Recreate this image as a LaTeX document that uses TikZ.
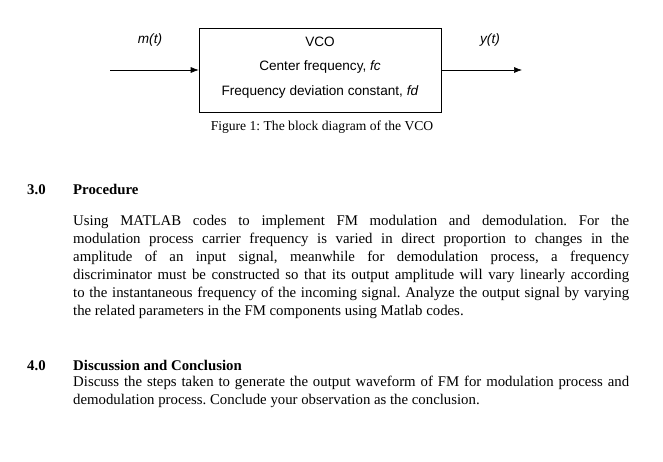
\documentclass[tikz,border=0pt]{standalone}
\usepackage{fontspec}
\setmainfont{Liberation Serif}
\setsansfont{Liberation Sans}
\frenchspacing
\begin{document}
\begin{tikzpicture}[x=1pt,y=-1pt,
  sans/.style={font=\sffamily\fontsize{13.6}{15}\selectfont,inner sep=0},
  body/.style={font=\fontsize{14.8}{17}\selectfont,anchor=base west,inner sep=0},
  bodyb/.style={body,font=\fontsize{14.8}{17}\selectfont\bfseries},
  sig/.style={-{Latex[length=8pt,width=6pt]},semithick}]
\usetikzlibrary{arrows.meta}
\useasboundingbox (0,0) rectangle (663,461);
\node[draw,semithick,minimum width=242pt,minimum height=84pt,inner sep=0] (vco) at (320,70) {};
\node[sans] (t1) at (320,42) {VCO};
\node[sans] (t2) at (320,67) {Center frequency, \textit{fc}};
\node[sans] (t3) at (320,92) {Frequency deviation constant, \textit{fd}};
\coordinate (in) at (110,70);
\coordinate (out) at (522,70);
\draw[sig] (in) -- (vco.west);
\draw[sig] (vco.east) -- (out);
\node[sans] (m) at (150,40) {\textit{m(t)}};
\node[sans] (y) at (490,40) {\textit{y(t)}};
\node[font=\fontsize{13.6}{15}\selectfont,inner sep=0] (cap) at (322,127) {Figure 1: The block diagram of the VCO};
\node[bodyb] (s3) at (27,194) {3.0};
\node[bodyb] (p) at (73,194) {Procedure};
\node[body] (l1) at (73,225) {\makebox[556pt][s]{Using MATLAB codes to implement FM modulation and demodulation. For the}};
\node[body] (l2) at (73,243) {\makebox[556pt][s]{modulation process carrier frequency is varied in direct proportion to changes in the}};
\node[body] (l3) at (73,261) {\makebox[556pt][s]{amplitude of an input signal, meanwhile for demodulation process, a frequency}};
\node[body] (l4) at (73,279) {\makebox[556pt][s]{discriminator must be constructed so that its output amplitude will vary linearly according}};
\node[body] (l5) at (73,297) {\makebox[556pt][s]{to the instantaneous frequency of the incoming signal. Analyze the output signal by varying}};
\node[body] (l6) at (73,315) {the related parameters in the FM components using Matlab codes.};
\node[bodyb] (s4) at (27,370) {4.0};
\node[bodyb] (d) at (73,370) {Discussion and Conclusion};
\node[body] (k1) at (73,386) {\makebox[556pt][s]{Discuss the steps taken to generate the output waveform of FM for modulation process and}};
\node[body] (k2) at (73,404) {demodulation process. Conclude your observation as the conclusion.};
\end{tikzpicture}
\end{document}
